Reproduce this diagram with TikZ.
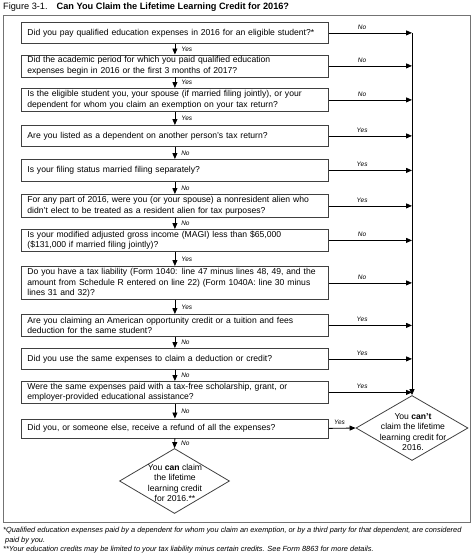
\documentclass[tikz,border=0pt]{standalone}
\usepackage{fontspec}
\setmainfont{Liberation Sans}
\usetikzlibrary{arrows.meta,shapes.geometric}
\begin{document}
\begin{tikzpicture}[x=1pt,y=-1pt,
  box/.style={draw=black!75, line width=0.8pt, rectangle, anchor=north west,
    text width=295pt, inner xsep=6pt, inner ysep=0pt, align=left,
    font=\fontsize{8.6}{10.5}\selectfont},
  arr/.style={-{Triangle[length=6pt,width=5pt]}, line width=0.8pt},
  lab/.style={font=\fontsize{6.5}{7}\selectfont\itshape, inner sep=0pt},
  dia/.style={diamond, draw=black!75, line width=0.8pt, inner sep=0pt},
  diatext/.style={align=center, font=\fontsize{8.6}{10.5}\selectfont, inner sep=0pt},
  note/.style={anchor=north west, align=left, inner sep=0pt,
    font=\fontsize{7.4}{9.5}\selectfont\itshape}
]
\useasboundingbox (0,0) rectangle (474,558);
\node[anchor=west, inner sep=0pt, font=\fontsize{9.2}{11}\selectfont] (title) at (3,7)
  {Figure 3-1.\hspace{9pt}\textbf{Can You Claim the Lifetime Learning Credit for 2016?}};
\draw[black!55, line width=0.8pt] (3,15) rectangle (470,522);

\node[box, minimum height=21pt] (b1) at (21,22) {\mbox{Did you pay qualified education expenses in 2016 for an eligible student?*}};
\node[box, minimum height=22pt] (b2) at (21,54.5) {Did the academic period for which you paid qualified education\\expenses begin in 2016 or the first 3 months of 2017?};
\node[box, minimum height=23pt] (b3) at (21,88) {\mbox{Is the eligible student you, your spouse (if married filing jointly), or your}\\dependent for whom you claim an exemption on your tax return?};
\node[box, minimum height=21pt] (b4) at (21,125) {Are you listed as a dependent on another person’s tax return?};
\node[box, minimum height=22pt] (b5) at (21,159) {Is your filing status married filing separately?};
\node[box, minimum height=23pt] (b6) at (21,194) {\mbox{For any part of 2016, were you (or your spouse) a nonresident alien who}\\didn’t elect to be treated as a resident alien for tax purposes?};
\node[box, minimum height=22pt] (b7) at (21,229) {Is your modified adjusted gross income (MAGI) less than \$65,000\\(\$131,000 if married filing jointly)?};
\node[box, minimum height=33pt] (b8) at (21,266) {\mbox{Do you have a tax liability (Form 1040: line 47 minus lines 48, 49, and the}\\\mbox{amount from Schedule R entered on line 22) (Form 1040A: line 30 minus}\\lines 31 and 32)?};
\node[box, minimum height=22pt] (b9) at (21,314) {Are you claiming an American opportunity credit or a tuition and fees\\deduction for the same student?};
\node[box, minimum height=21pt] (b10) at (21,348) {Did you use the same expenses to claim a deduction or credit?};
\node[box, minimum height=22pt] (b11) at (21,381) {Were the same expenses paid with a tax-free scholarship, grant, or\\employer-provided educational assistance?};
\node[box, minimum height=19pt] (b12) at (21,418.5) {Did you, or someone else, receive a refund of all the expenses?};

\node[dia, minimum width=112pt, minimum height=65pt] (cant) at (412,428) {};
\node[diatext] (canttext) at (413,432) {You \textbf{can't}\\claim the lifetime\\learning credit for\\2016.};
\node[dia, minimum width=110pt, minimum height=65pt] (can) at (174.5,481) {};
\node[diatext] (cantextb) at (175,483) {You \textbf{can} claim\\the lifetime\\learning credit\\for 2016.**};

% vertical flow
\draw[arr] (b1.south) -- node[lab, right=6pt]{Yes} (b2.north);
\draw[arr] (b2.south) -- node[lab, right=6pt]{Yes} (b3.north);
\draw[arr] (b3.south) -- node[lab, right=6pt]{Yes} (b4.north);
\draw[arr] (b4.south) -- node[lab, right=6pt]{No} (b5.north);
\draw[arr] (b5.south) -- node[lab, right=6pt]{No} (b6.north);
\draw[arr] (b6.south) -- node[lab, right=6pt]{No} (b7.north);
\draw[arr] (b7.south) -- node[lab, right=6pt]{Yes} (b8.north);
\draw[arr] (b8.south) -- node[lab, right=6pt]{Yes} (b9.north);
\draw[arr] (b9.south) -- node[lab, right=6pt]{No} (b10.north);
\draw[arr] (b10.south) -- node[lab, right=6pt]{No} (b11.north);
\draw[arr] (b11.south) -- node[lab, right=6pt]{No} (b12.north);
\draw[arr] (b12.south) -- node[lab, right=6pt]{No} (can.north);

% collector
\coordinate (coltop) at (b1.east -| cant.north);
\draw[arr] (coltop) -- (cant.north);
\draw[arr] (b1.east) -- node[lab, above=3pt, pos=0.4]{No} (b1.east -| cant.north);
\draw[arr] (b2.east) -- node[lab, above=3pt, pos=0.4]{No} (b2.east -| cant.north);
\draw[arr] (b3.east) -- node[lab, above=3pt, pos=0.4]{No} (b3.east -| cant.north);
\draw[arr] (b4.east) -- node[lab, above=3pt, pos=0.4]{Yes} (b4.east -| cant.north);
\draw[arr] (b5.east) -- node[lab, above=3pt, pos=0.4]{Yes} (b5.east -| cant.north);
\draw[arr] (b6.east) -- node[lab, above=3pt, pos=0.4]{Yes} (b6.east -| cant.north);
\draw[arr] (b7.east) -- node[lab, above=3pt, pos=0.4]{No} (b7.east -| cant.north);
\draw[arr] (b8.east) -- node[lab, above=3pt, pos=0.4]{No} (b8.east -| cant.north);
\draw[arr] (b9.east) -- node[lab, above=3pt, pos=0.4]{Yes} (b9.east -| cant.north);
\draw[arr] (b10.east) -- node[lab, above=3pt, pos=0.4]{Yes} (b10.east -| cant.north);
\draw[arr] (b11.east) -- node[lab, above=3pt, pos=0.4]{Yes} (b11.east -| cant.north);
\draw[arr] (b12.east) -- node[lab, above=3pt, pos=0.4]{Yes} (cant.west);

% footnotes
\node[note] (fn1) at (3,527) {*Qualified education expenses paid by a dependent for whom you claim an exemption, or by a third party for that dependent, are considered\\\hspace*{2pt}paid by you.};
\node[note] (fn2) at (3,545.5) {**Your education credits may be limited to your tax liability minus certain credits. See Form 8863 for more details.};
\end{tikzpicture}
\end{document}
